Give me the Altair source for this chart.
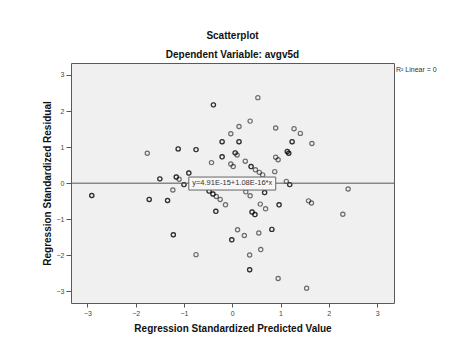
import altair as alt
import pandas as pd

# Regression standardized predicted value (x), standardized residual (y),
# and how many cases sit on the same spot (darker circles = 2)
pred = [-2.91, -1.76, -1.72, -1.50, -1.34, -1.23, -1.22, -1.16, -1.10, -1.12,
        -1.00, -0.90, -0.75, -0.75, -0.48, -0.40, -0.33, -0.25, -0.14, -0.34,
        -0.43, -0.39, -0.21, -0.21, -0.03, -0.03, 0.02, 0.06, 0.10, 0.14,
        0.14, 0.37, 0.53, 0.27, 0.39, 0.48, 0.56, 0.63, 0.88, 0.90,
        1.28, 1.41, 1.24, 1.65, 1.14, 1.17, 0.90, 0.95, 1.12, 1.19,
        2.40, 0.28, 0.37, 0.67, 0.58, 0.69, 0.97, 0.41, 0.47, 1.58,
        1.64, 2.29, -0.01, 0.11, 0.25, 0.55, 0.82, 0.59, 0.36, 0.36,
        0.95, 1.54]
resid = [-0.34, 0.83, -0.45, 0.12, -0.48, -0.19, -1.43, 0.17, 0.11, 0.95,
         -0.04, 0.28, 0.93, -1.98, -0.22, -0.30, -0.37, -0.45, -0.60, -0.78,
         0.57, 2.17, 1.15, 0.73, 1.37, 0.53, 0.46, 0.84, 0.78, 1.57,
         1.15, 1.72, 2.37, 0.61, 0.46, 0.37, 0.30, 0.23, 0.32, 1.53,
         1.51, 1.38, 1.15, 1.10, 0.88, 0.83, 0.72, 0.65, 0.05, -0.04,
         -0.16, -0.24, -0.35, -0.26, -0.58, -0.71, -0.60, -0.80, -0.87, -0.49,
         -0.55, -0.86, -1.57, -1.29, -1.45, -1.38, -1.28, -1.84, -1.99, -2.40,
         -2.64, -2.91]
counts = [2, 1, 2, 2, 2, 1, 2, 2, 1, 2,
          2, 2, 2, 1, 2, 2, 1, 1, 1, 2,
          1, 2, 2, 2, 1, 1, 1, 2, 1, 1,
          2, 1, 1, 1, 2, 1, 1, 1, 1, 1,
          1, 1, 2, 1, 2, 2, 1, 1, 1, 2,
          1, 1, 1, 2, 1, 1, 2, 2, 2, 1,
          1, 1, 2, 1, 1, 1, 2, 1, 1, 2,
          1, 1]

# Linear fit line
fit_intercept = [4.91e-15]
fit_label = ["y=4.91E-15+1.08E-16*x"]
label_box_x = [-0.90, 0.90]
label_box_y = [-0.19, 0.17]
r2_label = ["R\u00b2 Linear = 0"]
ticks = [-3, -2, -1, 0, 1, 2, 3]

rows = []
for x, y, c in zip(pred, resid, counts):
    for _ in range(c):
        rows.append({"pred": x, "resid": y})
df = pd.DataFrame(rows)

FONT = "Liberation Sans"
W, H = 323, 240

x_scale = alt.Scale(domain=[-3.34, 3.35], nice=False, zero=False)
y_scale = alt.Scale(domain=[-3.32, 3.33], nice=False, zero=False)

x_axis = alt.Axis(values=ticks, title="Regression Standardized Predicted Value",
                  grid=False, domain=False, tickColor="#555555", tickSize=4,
                  labelFontSize=7, labelColor="#444444", labelPadding=2,
                  labelOverlap=False,
                  titleFontSize=10, titleFontWeight="bold", titleColor="#111111",
                  titlePadding=7, labelFont=FONT, titleFont=FONT)
y_axis = alt.Axis(values=ticks, title="Regression Standardized Residual",
                  grid=False, domain=False, tickColor="#555555", tickSize=5,
                  labelFontSize=7, labelColor="#444444", labelPadding=2,
                  labelOverlap=False,
                  titleFontSize=10, titleFontWeight="bold", titleColor="#111111",
                  titlePadding=4, labelFont=FONT, titleFont=FONT)

points = alt.Chart(df).mark_point(
    shape="circle", filled=False, size=18, strokeWidth=1.2,
    color="#000000", opacity=0.55
).encode(
    x=alt.X("pred:Q", scale=x_scale, axis=x_axis),
    y=alt.Y("resid:Q", scale=y_scale, axis=y_axis),
)

fit = alt.Chart(pd.DataFrame({"y": fit_intercept})).mark_rule(
    color="#555555", strokeWidth=1
).encode(y=alt.Y("y:Q", scale=y_scale, axis=y_axis))

box = alt.Chart(pd.DataFrame({
    "x": [label_box_x[0]], "x2": [label_box_x[1]],
    "y": [label_box_y[0]], "y2": [label_box_y[1]],
})).mark_rect(fill="#f7f7f7", stroke="#666666", strokeWidth=1).encode(
    x=alt.X("x:Q", scale=x_scale, axis=x_axis), x2="x2:Q",
    y=alt.Y("y:Q", scale=y_scale, axis=y_axis), y2="y2:Q",
)

label = alt.Chart(pd.DataFrame({"x": [0.0], "y": [0.0], "t": fit_label})).mark_text(
    fontSize=7.5, font=FONT, color="#333333", align="center", baseline="middle"
).encode(
    x=alt.X("x:Q", scale=x_scale, axis=x_axis),
    y=alt.Y("y:Q", scale=y_scale, axis=y_axis), text="t:N"
)

r2 = alt.Chart(pd.DataFrame({"t": r2_label})).mark_text(
    fontSize=7, font=FONT, color="#333333", align="left", baseline="middle"
).encode(x=alt.value(W + 2), y=alt.value(7), text="t:N")

chart = alt.layer(points, fit, box, label, r2).properties(
    width=W, height=H,
    background="#ffffff",
    title=alt.TitleParams(
        "Scatterplot", subtitle="Dependent Variable: avgv5d",
        font=FONT, fontSize=10, fontWeight="bold", color="#111111",
        subtitleFont=FONT, subtitleFontSize=10, subtitleFontWeight="bold",
        subtitleColor="#111111", subtitlePadding=9, offset=3, anchor="middle",
    ),
    autosize=alt.AutoSizeParams(type="none"),
    padding={"left": 63, "top": 55, "right": 72, "bottom": 49},
).configure_view(
    fill="#f0f0f0", stroke="#5a5a5a", strokeWidth=1
).configure_axis(labelOverlap=False)

chart.save("out.html", embed_options={"renderer": "svg", "actions": False})
